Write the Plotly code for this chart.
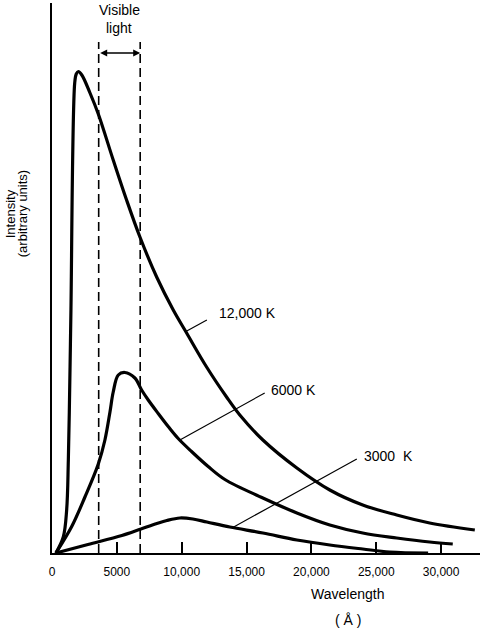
import plotly.graph_objects as go

# wavelength in angstrom, intensity in arbitrary units
wl_12000 = [300, 870, 1130, 1260, 1390, 1460, 1750, 1870, 2030, 2300, 2930, 3570,
            4720, 5750, 6780, 8070, 9350, 10380, 11920, 13460, 14480, 16260,
            18880, 21420, 23960, 26580, 29120, 32600]
i_12000 = [0, 3.2, 8.6, 18.6, 37, 48.6, 94, 95.8, 96.3, 95.6, 92, 87.8,
           78.6, 70.6, 63.2, 55.2, 48.6, 44, 37.2, 31.2, 27.6, 22.6,
           17, 12.6, 9.6, 7.6, 6, 4.6]

wl_6000 = [300, 1520, 2540, 3570, 4080, 4470, 4720, 5110, 5620, 6390, 6910, 7420,
           8190, 8960, 9730, 10760, 12040, 13330, 16260, 18880, 21420, 23960,
           26580, 29120, 30900]
i_6000 = [0, 5.3, 11.2, 17.8, 22.6, 28.2, 32.2, 35.6, 36.1, 35, 32.6, 30.6,
          27.9, 25.3, 22.9, 20.3, 17.3, 14.7, 11, 8, 5.6, 4,
          3, 2.2, 1.8]

wl_3000 = [300, 2770, 5390, 6860, 8090, 8860, 9860, 10860, 11940, 13710, 16260,
           18880, 21420, 23960, 26040, 29000]
i_3000 = [0, 1.7, 3.5, 4.8, 5.9, 6.5, 7, 6.8, 6.2, 5.2, 4, 2.6, 1.6, 0.8, 0.2, 0]

visible = [3600, 6800]
x_ticks = [0, 5000, 10000, 15000, 20000, 25000, 30000]
x_tick_text = ['0', '5000', '10,000', '15,000', '20,000', '25,000', '30,000']

labels = ['12,000 K', '6000 K', '3000  K']
label_pos = [(12700, 48), (16700, 32.6), (23900, 19.4)]
leader_from = [(10250, 44.2), (9860, 22.6), (13870, 5)]
leader_to = [(11940, 46.6), (16400, 32), (23500, 18.8)]

FONT = 'Liberation Sans, Arial, sans-serif'

fig = go.Figure()
for wl, inten in ((wl_12000, i_12000), (wl_6000, i_6000), (wl_3000, i_3000)):
    fig.add_trace(go.Scatter(x=wl, y=inten, mode='lines', showlegend=False,
                             line={'color': 'black', 'width': 3.2,
                                   'shape': 'spline', 'smoothing': 1.0},
                             hoverinfo='skip'))

# visible light band edges
for v in visible:
    fig.add_trace(go.Scatter(x=[v, v], y=[0, 102.2], mode='lines', showlegend=False,
                             line={'color': 'black', 'width': 1.6, 'dash': '9px,5px'},
                             hoverinfo='skip'))

# leader lines to the temperature labels
for a, b in zip(leader_from, leader_to):
    fig.add_trace(go.Scatter(x=[a[0], b[0]], y=[a[1], b[1]], mode='lines',
                             showlegend=False, line={'color': 'black', 'width': 1.2},
                             hoverinfo='skip'))

annotations = []
for t, p in zip(labels, label_pos):
    annotations.append(dict(x=p[0], y=p[1], text=t, showarrow=False, xanchor='left',
                            yanchor='middle', font={'size': 14, 'color': 'black'}))

# double headed arrow across the visible band
annotations.append(dict(x=visible[1], y=100, ax=visible[0], ay=100, xref='x', yref='y',
                        axref='x', ayref='y', text='', showarrow=True, arrowhead=2,
                        arrowside='end+start', arrowsize=1, arrowwidth=1.4,
                        arrowcolor='black', standoff=0, startstandoff=0))
annotations.append(dict(x=5200, y=108.6, text='Visible', showarrow=False,
                        font={'size': 14, 'color': 'black'}))
annotations.append(dict(x=5200, y=105, text='light', showarrow=False,
                        font={'size': 14, 'color': 'black'}))

# axis titles, placed by hand in paper coords
titles = [(0.691, -0.0745, 'Wavelength', 0, 14),
          (0.691, -0.122, '( Å )', 0, 14),
          (-0.098, 0.616, 'Intensity', -90, 13),
          (-0.07, 0.616, '(arbitrary units)', -90, 13)]
for x, y, t, ang, size in titles:
    annotations.append(dict(x=x, y=y, xref='paper', yref='paper', text=t,
                            xanchor='center', yanchor='middle', showarrow=False,
                            textangle=ang, font={'size': size, 'color': 'black'}))

fig.update_layout(
    width=480, height=628,
    margin={'l': 52, 'r': 0, 't': 3, 'b': 75, 'autoexpand': False},
    paper_bgcolor='white', plot_bgcolor='white',
    font={'family': FONT, 'color': 'black'},
    annotations=annotations,
    xaxis={'range': [0, 33000], 'showgrid': False, 'zeroline': False,
           'showline': True, 'linecolor': 'black', 'linewidth': 2,
           'tickvals': x_ticks, 'ticktext': x_tick_text, 'ticks': 'inside',
           'ticklen': 11, 'tickwidth': 1.6, 'tickcolor': 'black',
           'tickfont': {'size': 12}, 'ticklabelstandoff': 7},
    yaxis={'range': [0, 110], 'showgrid': False, 'zeroline': False,
           'showline': True, 'linecolor': 'black', 'linewidth': 1.5,
           'showticklabels': False, 'ticks': ''},
)

# the page body has a default 8px margin; drop it so the figure fills the window
fig.write_html("out.html", config={'displayModeBar': False},
               post_script="document.body.style.margin='0';")
